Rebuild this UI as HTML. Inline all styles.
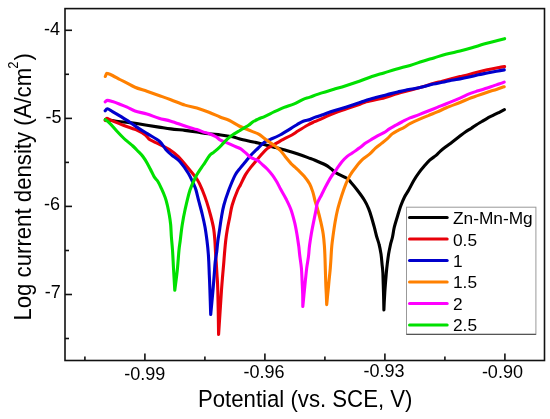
<!DOCTYPE html>
<html><head><meta charset="utf-8"><style>
html,body{margin:0;padding:0;background:#fff;}
svg{display:block;}
text{font-family:"Liberation Sans",Arial,sans-serif;fill:#000;}
</style></head><body>
<svg width="550" height="419" viewBox="0 0 550 419">
<rect width="550" height="419" fill="#fff"/>
<g fill="none" stroke-width="3.1" stroke-linejoin="round" stroke-linecap="round">
<path d="M105.3,119.6 C106.9,119.8 111.2,120.5 115.0,121.0 C118.8,121.5 125.0,122.1 128.3,122.5 C131.6,122.9 131.9,122.7 135.0,123.2 C138.1,123.7 142.9,124.7 146.9,125.3 C150.9,125.9 154.9,126.5 158.9,127.1 C162.9,127.7 166.5,128.3 170.8,128.9 C175.2,129.5 180.7,129.9 185.0,130.4 C189.3,130.9 192.9,131.4 196.9,132.0 C200.9,132.6 204.9,133.3 208.9,133.8 C212.9,134.3 216.8,134.5 220.8,135.0 C224.8,135.5 229.6,136.2 232.7,136.8 C235.8,137.4 236.4,138.1 239.1,138.8 C241.8,139.5 245.4,140.3 248.6,141.0 C251.8,141.7 255.0,142.2 258.2,142.9 C261.4,143.7 264.8,144.7 267.7,145.5 C270.6,146.3 272.6,146.8 275.7,147.6 C278.8,148.4 282.9,149.6 286.5,150.6 C290.1,151.6 293.6,152.6 297.2,153.8 C300.8,155.0 305.0,156.5 308.0,157.6 C311.0,158.7 312.1,159.0 315.0,160.2 C317.9,161.4 323.0,163.6 325.7,165.0 C328.4,166.4 329.3,167.5 331.1,168.8 C332.9,170.2 333.8,171.5 336.5,173.1 C339.2,174.7 344.8,176.9 347.2,178.5 C349.6,180.1 349.3,180.6 351.0,182.5 C352.7,184.4 355.0,187.1 357.2,190.0 C359.4,192.9 362.4,196.9 364.3,200.0 C366.2,203.1 367.4,205.7 368.6,208.6 C369.8,211.5 370.6,214.1 371.5,217.2 C372.4,220.3 373.5,224.1 374.3,227.2 C375.1,230.3 375.7,233.1 376.5,236.0 C377.3,238.9 378.4,241.5 379.1,244.5 C379.9,247.5 380.5,250.9 381.0,254.1 C381.5,257.3 381.7,260.4 382.0,263.6 C382.3,266.8 382.6,268.4 382.9,273.2 C383.1,278.0 383.3,286.2 383.5,292.3 C383.7,298.4 383.8,307.1 383.9,310.0 C384.0,307.1 384.4,298.4 384.8,292.3 C385.2,286.2 385.9,278.0 386.3,273.2 C386.7,268.4 386.9,266.8 387.3,263.6 C387.7,260.4 388.1,257.3 388.6,254.1 C389.1,250.9 389.9,247.3 390.5,244.5 C391.1,241.7 391.9,239.9 392.5,237.0 C393.1,234.1 393.5,230.5 394.3,227.2 C395.1,223.9 396.1,220.8 397.2,217.2 C398.3,213.6 399.6,209.1 400.8,205.8 C402.0,202.5 403.1,199.8 404.4,197.2 C405.7,194.6 407.1,192.8 408.7,190.0 C410.3,187.2 412.1,183.4 413.8,180.5 C415.5,177.6 417.2,175.0 419.0,172.6 C420.8,170.2 422.5,168.2 424.3,166.1 C426.1,164.0 427.7,162.0 429.7,160.2 C431.7,158.4 434.3,156.9 436.1,155.4 C437.9,153.9 438.8,152.5 440.4,151.1 C442.0,149.7 443.8,148.3 445.8,146.8 C447.8,145.3 450.2,143.6 452.3,142.0 C454.4,140.4 456.5,138.8 458.7,137.1 C460.9,135.4 463.6,133.1 465.7,131.7 C467.8,130.3 469.3,129.7 471.1,128.5 C472.9,127.3 474.7,125.9 476.5,124.7 C478.3,123.5 480.1,122.6 481.9,121.5 C483.7,120.4 485.4,119.3 487.2,118.3 C489.0,117.3 490.8,116.5 492.6,115.6 C494.4,114.7 496.0,113.9 498.0,112.9 C500.0,111.9 503.3,110.2 504.4,109.7" stroke="#000000"/>
<path d="M105.2,120.5 C105.5,120.2 105.7,118.4 106.8,118.4 C107.9,118.4 109.1,119.5 111.9,120.7 C114.8,121.9 119.9,124.0 123.9,125.5 C127.9,127.0 132.2,128.1 135.8,129.7 C139.4,131.3 143.1,133.4 145.3,135.0 C147.5,136.6 147.5,137.9 148.9,139.0 C150.3,140.1 151.8,140.7 153.7,141.6 C155.5,142.5 157.2,143.1 160.0,144.6 C162.8,146.1 167.8,148.5 170.8,150.5 C173.9,152.5 175.4,153.7 178.3,156.7 C181.2,159.7 185.1,164.4 188.3,168.3 C191.5,172.2 195.1,176.3 197.5,180.0 C199.9,183.7 201.0,186.8 202.5,190.5 C204.0,194.2 205.4,197.8 206.7,201.9 C208.0,206.0 209.3,210.5 210.5,215.0 C211.7,219.5 213.0,224.6 213.7,228.9 C214.4,233.2 214.6,237.0 214.9,240.8 C215.2,244.7 215.3,248.5 215.5,252.0 C215.7,255.5 215.9,258.2 216.2,262.0 C216.4,265.8 216.7,270.3 217.0,275.0 C217.3,279.7 217.5,280.1 217.8,290.0 C218.1,299.9 218.5,327.1 218.6,334.5 C219.1,327.1 220.8,299.9 221.5,290.0 C222.2,280.1 222.3,279.8 222.7,275.0 C223.1,270.2 223.6,265.4 223.9,261.2 C224.2,257.0 224.5,253.4 224.8,250.0 C225.1,246.6 225.3,244.3 225.7,240.8 C226.1,237.3 226.7,232.9 227.4,228.9 C228.1,224.9 229.0,220.9 229.8,216.9 C230.6,212.9 230.9,209.5 232.2,205.0 C233.5,200.5 236.3,193.3 237.7,190.0 C239.1,186.7 239.1,187.6 240.4,185.0 C241.7,182.4 243.9,177.4 245.7,174.4 C247.5,171.4 249.3,169.2 251.1,166.9 C252.9,164.6 254.7,162.6 256.5,160.4 C258.3,158.2 260.1,156.0 261.9,154.0 C263.7,152.0 265.4,150.0 267.2,148.6 C269.0,147.2 270.5,146.7 272.6,145.4 C274.8,144.2 278.3,142.1 280.1,141.1 C281.9,140.1 281.3,140.3 283.3,139.3 C285.3,138.3 289.4,136.4 291.9,135.0 C294.4,133.6 295.6,132.5 298.3,130.8 C301.0,129.1 305.2,126.5 307.9,125.0 C310.6,123.5 312.3,122.8 314.6,121.7 C316.9,120.6 318.7,120.0 321.9,118.6 C325.1,117.2 329.9,114.8 333.9,113.2 C337.9,111.6 341.4,110.5 345.8,109.0 C350.2,107.5 356.8,105.4 360.0,104.3 C363.2,103.2 361.4,103.2 365.0,102.2 C368.6,101.2 375.9,100.0 381.4,98.6 C386.8,97.1 392.9,94.9 397.7,93.5 C402.5,92.1 406.0,91.4 410.0,90.3 C414.0,89.2 418.0,88.1 421.9,87.0 C425.8,85.9 429.8,84.5 433.2,83.5 C436.6,82.5 439.3,82.0 442.3,81.2 C445.3,80.4 448.4,79.6 451.4,78.8 C454.3,78.0 457.1,77.3 460.0,76.6 C462.9,75.9 466.1,75.2 469.1,74.4 C472.1,73.7 475.2,72.9 478.2,72.1 C481.2,71.3 484.3,70.5 487.3,69.8 C490.3,69.1 493.5,68.5 496.4,68.0 C499.3,67.5 503.2,66.8 504.6,66.6" stroke="#e8000a"/>
<path d="M105.2,110.8 C105.6,110.5 106.2,108.6 107.4,108.7 C108.6,108.8 110.4,110.4 112.5,111.6 C114.6,112.8 117.4,114.4 119.8,115.9 C122.2,117.4 124.4,118.7 127.1,120.4 C129.8,122.2 132.4,124.2 135.8,126.4 C139.2,128.7 143.7,131.4 147.7,133.9 C151.7,136.4 156.7,138.9 159.7,141.5 C162.7,144.1 163.8,147.2 165.8,149.5 C167.8,151.8 169.3,153.0 171.7,155.0 C174.1,157.0 177.2,158.6 180.0,161.7 C182.8,164.8 186.1,169.7 188.3,173.3 C190.5,176.9 192.0,180.5 193.3,183.3 C194.6,186.1 195.1,186.9 196.0,190.0 C196.9,193.1 197.9,197.8 199.0,201.9 C200.1,206.0 201.3,210.3 202.3,214.5 C203.3,218.7 204.2,222.6 205.0,227.0 C205.8,231.4 206.4,236.1 207.0,240.8 C207.6,245.5 208.0,249.3 208.4,255.0 C208.8,260.7 209.1,269.2 209.3,275.0 C209.6,280.8 209.7,283.4 209.9,290.0 C210.1,296.6 210.6,310.4 210.7,314.5 C211.1,310.4 212.4,296.6 213.0,290.0 C213.6,283.4 213.8,279.7 214.2,275.0 C214.6,270.3 214.8,265.8 215.2,262.0 C215.6,258.2 216.2,255.5 216.7,252.0 C217.1,248.5 217.4,244.7 217.9,240.8 C218.4,237.0 219.1,232.9 219.7,228.9 C220.3,224.9 220.8,220.9 221.5,216.9 C222.2,212.9 222.7,209.5 223.9,205.0 C225.1,200.5 227.0,194.9 228.8,190.0 C230.7,185.1 233.1,179.1 235.0,175.4 C236.9,171.7 238.6,170.2 240.4,167.9 C242.2,165.6 243.9,163.7 245.7,161.5 C247.5,159.3 249.3,157.0 251.1,155.0 C252.9,153.0 254.7,151.5 256.5,149.7 C258.3,147.9 260.3,145.7 261.9,144.3 C263.5,142.9 264.7,141.9 266.1,141.1 C267.5,140.3 268.1,140.3 270.4,139.3 C272.7,138.3 275.6,137.4 280.0,135.0 C284.4,132.6 292.6,127.3 296.5,125.0 C300.4,122.7 300.9,122.2 303.2,121.3 C305.4,120.4 308.1,120.2 310.0,119.5 C311.9,118.8 312.6,118.2 314.6,117.4 C316.6,116.7 318.7,116.1 321.9,115.0 C325.1,113.9 329.9,112.1 333.9,110.8 C337.9,109.5 341.4,108.6 345.8,107.2 C350.2,105.8 356.8,103.6 360.0,102.5 C363.2,101.4 362.4,101.5 365.0,100.7 C367.6,99.9 372.3,98.4 375.9,97.4 C379.5,96.4 383.2,95.6 386.8,94.7 C390.4,93.8 394.1,92.8 397.7,92.0 C401.3,91.2 405.7,90.2 408.6,89.6 C411.5,89.0 412.4,89.1 415.0,88.6 C417.6,88.1 421.1,87.2 424.1,86.4 C427.1,85.7 430.2,84.8 433.2,84.1 C436.2,83.4 439.3,82.9 442.3,82.3 C445.3,81.7 448.4,80.8 451.4,80.2 C454.3,79.6 457.1,79.4 460.0,78.9 C462.9,78.4 466.1,77.7 469.1,77.0 C472.1,76.3 475.2,75.5 478.2,74.8 C481.2,74.1 484.3,73.6 487.3,73.0 C490.3,72.4 493.6,71.7 496.4,71.2 C499.2,70.7 503.0,70.1 504.3,69.9" stroke="#0000cc"/>
<path d="M105.3,76.5 C105.5,76.0 106.1,74.1 106.5,73.6 C106.9,73.1 106.7,73.2 107.7,73.5 C108.7,73.8 110.5,74.5 112.5,75.5 C114.5,76.5 117.4,78.2 119.8,79.5 C122.2,80.8 124.6,81.8 127.1,83.1 C129.6,84.4 131.7,85.8 135.0,87.2 C138.3,88.6 142.9,89.9 146.9,91.3 C150.9,92.7 154.9,94.1 158.9,95.5 C162.9,96.9 166.5,98.1 170.8,99.7 C175.2,101.3 180.7,103.7 185.0,105.1 C189.3,106.5 192.9,106.9 196.9,108.1 C200.9,109.3 205.1,110.8 208.9,112.3 C212.8,113.8 216.6,115.6 220.0,117.0 C223.4,118.4 226.3,119.0 229.5,120.5 C232.7,122.0 235.9,124.4 239.1,126.0 C242.3,127.6 245.4,128.7 248.6,130.0 C251.8,131.3 255.8,132.7 258.2,133.9 C260.6,135.1 261.4,136.1 262.9,137.2 C264.4,138.3 265.6,139.3 267.2,140.5 C268.8,141.7 270.4,142.6 272.6,144.3 C274.8,146.0 278.2,148.5 280.3,150.5 C282.4,152.5 283.3,154.3 285.1,156.5 C286.9,158.7 289.5,161.8 291.1,163.6 C292.8,165.4 293.8,166.1 295.0,167.2 C296.2,168.3 297.0,168.9 298.5,170.4 C300.0,171.9 302.3,174.0 304.2,176.3 C306.1,178.6 308.2,181.3 309.7,184.0 C311.2,186.7 312.1,189.8 313.0,192.6 C313.9,195.4 314.3,198.2 315.1,201.1 C315.9,204.0 316.9,206.5 317.8,210.0 C318.8,213.5 319.9,217.9 320.8,221.9 C321.7,225.9 322.6,229.9 323.2,233.9 C323.8,237.9 324.1,241.8 324.4,245.8 C324.7,249.8 324.8,252.1 325.0,258.0 C325.2,263.9 325.5,275.1 325.7,281.2 C325.9,287.3 326.1,290.5 326.3,294.4 C326.5,298.3 326.6,302.9 326.7,304.6 C326.9,302.9 327.3,298.3 327.7,294.4 C328.1,290.5 328.6,285.6 329.0,281.2 C329.4,276.8 330.0,272.0 330.3,268.1 C330.6,264.2 330.8,261.7 331.0,258.0 C331.2,254.3 331.4,249.8 331.8,245.8 C332.2,241.8 332.8,237.9 333.3,233.9 C333.9,229.9 334.4,225.9 335.1,221.9 C335.8,217.9 336.4,214.5 337.5,210.0 C338.6,205.5 340.5,199.4 341.9,195.0 C343.3,190.6 344.7,186.7 346.1,183.3 C347.5,179.9 348.8,177.4 350.4,174.7 C352.0,172.0 353.8,169.7 355.8,167.2 C357.8,164.7 360.0,161.9 362.3,159.7 C364.6,157.5 367.3,156.1 369.5,154.2 C371.7,152.3 373.5,150.0 375.5,148.2 C377.5,146.4 379.5,145.0 381.5,143.4 C383.5,141.8 385.6,140.2 387.4,138.6 C389.2,137.0 390.4,135.3 392.2,133.9 C394.0,132.5 396.2,131.4 398.2,130.3 C400.2,129.2 402.2,128.4 404.2,127.3 C406.2,126.2 407.5,124.9 410.0,123.6 C412.5,122.3 416.1,120.7 419.1,119.4 C422.1,118.1 425.2,116.8 428.2,115.6 C431.2,114.3 434.3,113.2 437.3,111.9 C440.3,110.6 442.6,109.4 446.4,107.8 C450.2,106.2 456.2,104.0 460.0,102.5 C463.8,101.0 466.1,99.8 469.1,98.6 C472.1,97.4 475.2,96.5 478.2,95.4 C481.2,94.3 484.3,93.2 487.3,92.2 C490.3,91.2 493.6,90.3 496.4,89.4 C499.2,88.5 502.9,87.2 504.2,86.8" stroke="#ff8000"/>
<path d="M105.2,101.8 C105.6,101.6 106.4,100.4 107.6,100.4 C108.8,100.4 110.5,101.0 112.5,101.6 C114.5,102.2 117.4,103.3 119.8,104.2 C122.2,105.1 124.6,106.0 127.1,107.1 C129.6,108.2 131.7,109.8 135.0,111.0 C138.3,112.2 142.9,112.8 146.9,114.0 C150.9,115.2 154.9,117.0 158.9,118.2 C162.9,119.4 166.5,119.9 170.8,121.2 C175.2,122.5 180.7,124.6 185.0,126.0 C189.3,127.4 193.8,128.6 196.9,129.6 C200.0,130.6 201.4,131.4 203.4,132.1 C205.4,132.8 206.8,132.7 208.9,133.5 C211.0,134.3 214.1,135.6 215.9,136.7 C217.8,137.8 218.6,139.0 220.0,139.8 C221.4,140.6 222.6,141.0 224.2,141.7 C225.8,142.4 227.7,143.1 229.5,143.9 C231.3,144.7 233.2,145.6 235.0,146.4 C236.8,147.2 238.6,147.5 240.4,148.6 C242.2,149.7 243.9,151.4 245.7,152.9 C247.5,154.4 249.1,156.4 251.1,157.7 C253.1,158.9 255.8,159.3 257.6,160.4 C259.4,161.5 260.3,162.8 261.9,164.2 C263.5,165.6 265.4,167.1 267.2,169.0 C269.0,170.9 271.0,173.2 272.6,175.4 C274.2,177.6 275.5,179.7 276.9,182.0 C278.2,184.3 279.2,186.5 280.7,189.3 C282.2,192.1 284.4,195.6 286.1,199.0 C287.8,202.4 289.6,205.9 291.0,209.7 C292.4,213.5 293.5,217.9 294.5,221.9 C295.5,225.9 296.2,229.9 296.9,233.9 C297.6,237.9 298.2,242.3 298.7,245.8 C299.2,249.3 299.2,251.3 299.7,255.0 C300.1,258.7 301.0,263.7 301.4,268.1 C301.8,272.5 301.9,276.8 302.1,281.2 C302.3,285.6 302.6,290.2 302.7,294.4 C302.8,298.6 302.8,304.5 302.8,306.5 C303.0,304.5 303.6,298.6 304.0,294.4 C304.4,290.2 304.9,285.6 305.3,281.2 C305.8,276.8 306.2,272.1 306.7,268.1 C307.2,264.1 307.9,260.7 308.4,257.0 C308.9,253.3 309.0,249.7 309.5,245.8 C310.0,242.0 310.6,237.9 311.3,233.9 C312.0,229.9 312.8,225.9 313.6,221.9 C314.4,217.9 315.4,213.1 316.0,210.0 C316.6,206.9 316.4,205.9 317.3,203.3 C318.2,200.8 320.2,197.5 321.6,194.7 C323.0,191.9 324.1,189.5 325.7,186.5 C327.3,183.5 329.3,179.8 331.1,176.9 C332.9,174.0 334.7,171.8 336.5,169.3 C338.3,166.8 340.1,164.0 341.9,161.8 C343.7,159.7 345.4,157.9 347.2,156.4 C349.0,154.9 350.5,154.2 352.6,152.7 C354.7,151.2 357.8,149.2 360.0,147.6 C362.2,145.9 364.0,144.2 366.0,142.8 C368.0,141.4 369.9,140.4 371.9,139.2 C373.9,138.0 375.9,136.8 377.9,135.7 C379.9,134.6 381.9,133.8 383.9,132.6 C385.9,131.4 387.8,129.9 389.8,128.7 C391.8,127.5 393.8,126.3 395.8,125.2 C397.8,124.1 399.4,123.2 401.8,122.0 C404.2,120.8 407.1,119.1 410.0,117.9 C412.9,116.7 416.1,115.8 419.1,114.6 C422.1,113.4 425.2,112.2 428.2,111.0 C431.2,109.8 434.3,108.6 437.3,107.4 C440.3,106.2 442.6,105.2 446.4,103.7 C450.2,102.2 456.2,99.7 460.0,98.1 C463.8,96.5 466.1,95.1 469.1,93.9 C472.1,92.7 475.2,91.8 478.2,90.8 C481.2,89.8 484.3,89.0 487.3,88.0 C490.3,87.0 493.6,85.9 496.4,84.9 C499.2,83.9 502.9,82.6 504.2,82.1" stroke="#ff00ff"/>
<path d="M105.3,119.7 C105.8,120.0 106.9,120.6 108.0,121.6 C109.1,122.6 110.4,123.8 111.9,125.5 C113.4,127.2 115.5,129.7 117.2,131.5 C118.9,133.3 120.6,135.1 122.0,136.5 C123.4,137.9 124.1,138.6 125.8,140.1 C127.5,141.6 130.2,143.5 132.3,145.5 C134.5,147.5 136.9,150.1 138.7,151.9 C140.5,153.7 141.5,154.6 142.9,156.5 C144.3,158.4 145.8,160.7 147.2,163.2 C148.6,165.7 150.3,169.2 151.5,171.5 C152.7,173.8 153.3,175.5 154.4,177.2 C155.5,178.9 156.7,179.6 157.9,181.5 C159.1,183.4 160.3,186.1 161.5,188.7 C162.7,191.3 164.1,194.6 165.1,197.3 C166.1,200.0 166.6,202.1 167.3,205.0 C168.0,207.9 168.7,211.7 169.3,215.0 C169.9,218.3 170.3,221.3 170.7,225.0 C171.0,228.7 171.1,232.8 171.4,237.0 C171.7,241.2 172.1,244.5 172.5,250.0 C172.9,255.5 173.2,263.3 173.6,270.0 C174.0,276.7 174.6,286.9 174.8,290.3 C175.2,286.9 176.6,276.7 177.3,270.0 C178.0,263.3 178.5,255.0 179.0,250.0 C179.5,245.0 179.8,244.2 180.3,240.0 C180.8,235.8 181.4,230.0 182.2,225.0 C183.0,220.0 183.7,215.8 185.0,210.0 C186.3,204.2 188.2,195.6 190.0,190.0 C191.8,184.4 193.6,180.9 195.8,176.7 C198.0,172.5 200.9,168.6 203.3,165.0 C205.7,161.4 208.3,157.2 210.0,155.1 C211.7,153.0 212.2,153.6 213.4,152.6 C214.7,151.6 216.1,150.5 217.5,149.2 C218.9,147.9 220.3,146.5 221.7,145.0 C223.1,143.5 224.5,141.8 225.9,140.4 C227.3,139.0 228.7,137.8 230.1,136.7 C231.5,135.6 232.7,134.8 234.2,133.8 C235.7,132.9 237.5,131.9 239.1,131.0 C240.7,130.1 242.3,129.0 243.9,128.1 C245.5,127.1 247.0,126.4 248.6,125.3 C250.2,124.2 251.8,122.5 253.4,121.5 C255.0,120.5 256.3,120.0 258.2,119.1 C260.1,118.2 262.3,117.5 265.0,116.3 C267.7,115.1 271.3,113.2 274.5,111.7 C277.7,110.2 280.9,108.7 284.1,107.4 C287.3,106.1 290.4,105.4 293.6,104.1 C296.8,102.8 300.5,100.5 303.2,99.3 C305.9,98.1 306.9,98.2 310.0,97.1 C313.1,96.0 317.9,94.2 321.9,92.9 C325.9,91.6 329.9,90.5 333.9,89.3 C337.9,88.1 341.4,87.1 345.8,85.7 C350.2,84.3 355.6,82.5 360.0,81.0 C364.4,79.5 367.9,77.8 371.9,76.5 C375.9,75.2 379.9,74.1 383.9,72.9 C387.9,71.7 391.4,70.5 395.8,69.3 C400.2,68.0 405.6,66.7 410.0,65.4 C414.4,64.1 417.9,62.8 421.9,61.5 C425.9,60.2 429.9,59.1 433.9,57.9 C437.9,56.7 441.4,55.4 445.8,54.3 C450.2,53.1 455.6,52.1 460.0,51.0 C464.4,49.9 467.9,48.9 471.9,47.7 C475.9,46.6 479.9,45.2 483.9,44.1 C487.9,43.0 492.4,42.0 495.8,41.1 C499.2,40.2 503.1,39.1 504.6,38.7" stroke="#00e000"/>
</g>
<rect x="406.5" y="207.2" width="129.4" height="127.2" fill="#fff" stroke="#999" stroke-width="1"/>
<line x1="406.5" y1="334.4" x2="535.9" y2="334.4" stroke="#555" stroke-width="1.3"/>
<g stroke-width="3" stroke-linecap="round"><line x1="409.5" y1="217.6" x2="447.2" y2="217.6" stroke="#000000"/><text x="453" y="224.0" font-size="17.3" stroke="none">Zn-Mn-Mg</text><line x1="409.5" y1="239.1" x2="447.2" y2="239.1" stroke="#e8000a"/><text x="453" y="245.5" font-size="17.3" stroke="none">0.5</text><line x1="409.5" y1="260.5" x2="447.2" y2="260.5" stroke="#0000cc"/><text x="453" y="266.9" font-size="17.3" stroke="none">1</text><line x1="409.5" y1="282.0" x2="447.2" y2="282.0" stroke="#ff8000"/><text x="453" y="288.4" font-size="17.3" stroke="none">1.5</text><line x1="409.5" y1="303.4" x2="447.2" y2="303.4" stroke="#ff00ff"/><text x="453" y="309.8" font-size="17.3" stroke="none">2</text><line x1="409.5" y1="324.9" x2="447.2" y2="324.9" stroke="#00e000"/><text x="453" y="331.3" font-size="17.3" stroke="none">2.5</text></g>
<rect x="65" y="8.6" width="479.5" height="351.9" fill="none" stroke="#111" stroke-width="1.6"/>
<g stroke="#111" stroke-width="1.6"><line x1="144.9" y1="360.5" x2="144.9" y2="353.5"/><line x1="264.9" y1="360.5" x2="264.9" y2="353.5"/><line x1="384.9" y1="360.5" x2="384.9" y2="353.5"/><line x1="504.9" y1="360.5" x2="504.9" y2="353.5"/><line x1="84.9" y1="360.5" x2="84.9" y2="356.5"/><line x1="204.9" y1="360.5" x2="204.9" y2="356.5"/><line x1="324.9" y1="360.5" x2="324.9" y2="356.5"/><line x1="444.9" y1="360.5" x2="444.9" y2="356.5"/><line x1="65" y1="30.3" x2="72" y2="30.3"/><line x1="65" y1="118.4" x2="72" y2="118.4"/><line x1="65" y1="206.4" x2="72" y2="206.4"/><line x1="65" y1="294.5" x2="72" y2="294.5"/><line x1="65" y1="74.3" x2="69" y2="74.3"/><line x1="65" y1="162.4" x2="69" y2="162.4"/><line x1="65" y1="250.5" x2="69" y2="250.5"/><line x1="65" y1="338.5" x2="69" y2="338.5"/></g>
<g font-size="18"><text x="144.75" y="379.6" text-anchor="middle">-0.99</text><text x="264.05" y="378.1" text-anchor="middle">-0.96</text><text x="384" y="377.0" text-anchor="middle">-0.93</text><text x="502.4" y="377.5" text-anchor="middle">-0.90</text><text x="60" y="34.5" text-anchor="end">-4</text><text x="61.5" y="123.3" text-anchor="end">-5</text><text x="60.1" y="209.8" text-anchor="end">-6</text><text x="60.8" y="298" text-anchor="end">-7</text></g>
<text transform="translate(305.2,406.6) scale(1,1.06)" font-size="22.2" text-anchor="middle">Potential (vs. SCE, V)</text>
<text transform="translate(30.5,186.9) rotate(-90) scale(1,1.06)" font-size="22.2" text-anchor="middle">Log current density (A/cm<tspan font-size="13" dy="-12.1" dx="-0.9">2</tspan><tspan dy="12.1" dx="0.9">)</tspan></text>
</svg>
</body></html>
